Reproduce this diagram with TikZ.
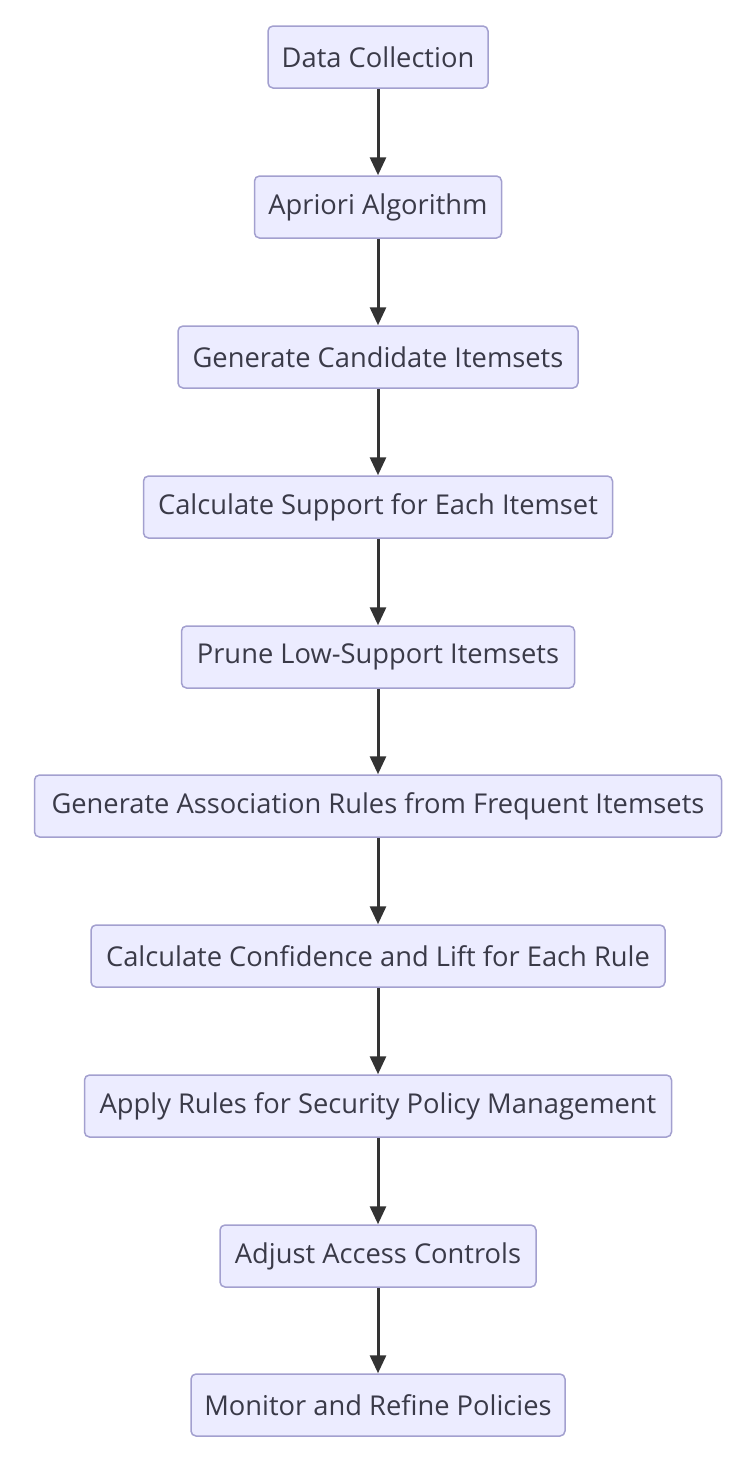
\documentclass[tikz,border=0pt]{standalone}
\usepackage{fontspec}
\setmainfont{Open Sans}
\usetikzlibrary{arrows.meta}
\definecolor{boxfill}{HTML}{ECECFF}
\definecolor{boxline}{HTML}{A3A0CF}
\definecolor{arrowc}{HTML}{333333}
\definecolor{textc}{HTML}{3A3A48}
\tikzset{
  stepbox/.style={draw=boxline, fill=boxfill, line width=1.5pt, rounded corners=5pt,
    minimum height=62pt, inner sep=0pt, text=textc, font=\fontsize{27.3}{32}\selectfont},
  flow/.style={draw=arrowc, line width=3pt, -{Triangle[length=18pt,width=16pt]}}
}
\begin{document}
\begin{tikzpicture}[x=1pt,y=-1pt]
\useasboundingbox (0,0) rectangle (739,1459);
\node[stepbox, minimum width=220pt] (n1) at (378,57) {Data Collection};
\node[stepbox, minimum width=247pt] (n2) at (378,207) {Apriori Algorithm};
\node[stepbox, minimum width=400pt] (n3) at (378,357) {Generate Candidate Itemsets};
\node[stepbox, minimum width=469pt] (n4) at (378,507) {Calculate Support for Each Itemset};
\node[stepbox, minimum width=393pt] (n5) at (378,657) {Prune Low-Support Itemsets};
\node[stepbox, minimum width=687pt] (n6) at (378,806) {Generate Association Rules from Frequent Itemsets};
\node[stepbox, minimum width=574pt] (n7) at (378,956) {Calculate Confidence and Lift for Each Rule};
\node[stepbox, minimum width=587pt] (n8) at (378,1106) {Apply Rules for Security Policy Management};
\node[stepbox, minimum width=316pt] (n9) at (378,1256) {Adjust Access Controls};
\node[stepbox, minimum width=374pt] (n10) at (378,1405) {Monitor and Refine Policies};
\foreach \a/\b in {n1/n2,n2/n3,n3/n4,n4/n5,n5/n6,n6/n7,n7/n8,n8/n9,n9/n10}
  \draw[flow] (\a) -- (\b);
\end{tikzpicture}
\end{document}
